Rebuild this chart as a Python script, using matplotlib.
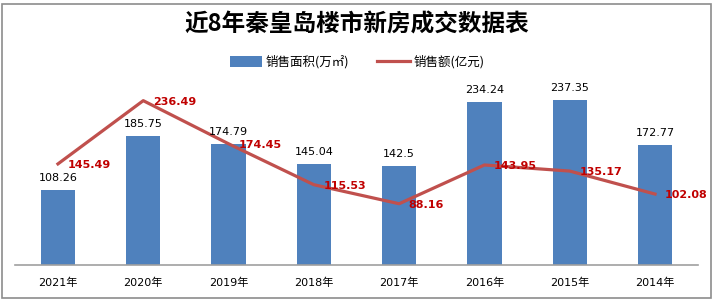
import matplotlib
matplotlib.use("Agg")
import matplotlib.pyplot as plt
from matplotlib.patches import Rectangle
import numpy as np

plt.rcParams["font.family"] = ["DejaVu Sans", "Noto Sans CJK SC"]
plt.rcParams["axes.unicode_minus"] = False

# 数据
years = ["2021年", "2020年", "2019年", "2018年", "2017年", "2016年", "2015年", "2014年"]
area = [108.26, 185.75, 174.79, 145.04, 142.5, 234.24, 237.35, 172.77]   # 销售面积(万㎡)
amount = [145.49, 236.49, 174.45, 115.53, 88.16, 143.95, 135.17, 102.08]  # 销售额(亿元)

BAR = "#4F81BD"
LINE = "#C0504D"
LBL = "#C00000"

W, H = 714, 302
fig = plt.figure(figsize=(W / 100, H / 100), dpi=100)

# 外框
fig.patches.append(Rectangle((2 / W, 4 / H), 709 / W, 294 / H, transform=fig.transFigure,
                             fill=False, edgecolor="#8C8C8C", linewidth=1.2))

ax = fig.add_axes([15.3 / W, 1 - 265 / H, 682.4 / W, 205 / H])
x = np.arange(len(years))

bars = ax.bar(x, area, width=0.4, color=BAR, label="销售面积(万㎡)", zorder=2)
line, = ax.plot(x, amount, color=LINE, linewidth=2.3, label="销售额(亿元)", zorder=3)

for xi, v in zip(x, area):
    ax.annotate(f"{v:g}", (xi, v), xytext=(0, 5), textcoords="offset points",
                ha="center", va="bottom", fontsize=8, color="black")
for xi, v in zip(x, amount):
    ax.annotate(f"{v:.2f}", (xi, v), xytext=(7, -1), textcoords="offset points",
                ha="left", va="center", fontsize=8, color=LBL, fontweight="bold", zorder=4)

ax.set_xlim(-0.5, len(years) - 0.5)
ax.set_ylim(0, 295)
ax.set_xticks(x)
ax.set_xticklabels(years, fontsize=8)
ax.tick_params(axis="x", length=0, pad=9)
ax.set_yticks([])
for s in ["top", "left", "right"]:
    ax.spines[s].set_visible(False)
ax.spines["bottom"].set_color("#A0A0A0")
ax.spines["bottom"].set_linewidth(1.2)

fig.text(0.5, 1 - 25 / H, "近8年秦皇岛楼市新房成交数据表", ha="center", va="center",
         fontsize=17, fontweight="bold", family=["Noto Sans CJK SC", "DejaVu Sans"])

fig.legend([bars, line], ["销售面积(万㎡)", "销售额(亿元)"], loc="center",
           bbox_to_anchor=(0.5, 1 - 62 / H), ncol=2, frameon=False,
           handlelength=2.6, handleheight=0.9, columnspacing=2.2, handletextpad=0.3,
           prop={"family": ["Noto Sans CJK SC", "DejaVu Sans"], "size": 9})

fig.savefig("out.png", dpi=100, facecolor="white")
